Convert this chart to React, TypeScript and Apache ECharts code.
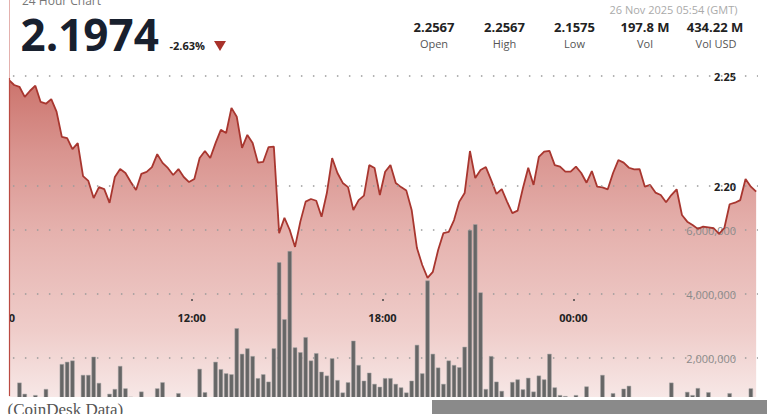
import React, { useEffect, useRef } from "react";
import * as echarts from "echarts";

// 10-minute samples, 25 Nov 2025 06:15 GMT -> 26 Nov 2025 05:45 GMT (hours since 25 Nov 00:00)
const START_HOUR = 6.25;
const STEP_HOURS = 1 / 6;

const prices = [
  2.2482, 2.2459, 2.2451, 2.2405, 2.2433, 2.2456, 2.2382, 2.2374, 2.2395, 2.2338,
  2.2223, 2.2218, 2.2168, 2.2195, 2.2045, 2.2023, 2.1945, 2.1995, 2.1986, 2.1923,
  2.2041, 2.2077, 2.2059, 2.2018, 2.1982, 2.2055, 2.2064, 2.2086, 2.2145, 2.2105,
  2.2082, 2.205, 2.2077, 2.2041, 2.2018, 2.2032, 2.2127, 2.2159, 2.2127, 2.2195,
  2.2255, 2.2241, 2.2355, 2.2315, 2.2173, 2.2232, 2.2195, 2.2106, 2.211, 2.2177,
  2.2179, 2.1786, 2.1855, 2.18, 2.1723, 2.1838, 2.1929, 2.1941, 2.1933, 2.186,
  2.1968, 2.2127, 2.2059, 2.2014, 2.1995, 2.1891, 2.1936, 2.1956, 2.2095, 2.2082,
  2.1959, 2.2065, 2.2095, 2.2014, 2.1995, 2.1979, 2.1891, 2.1718, 2.1641, 2.1582,
  2.161, 2.1709, 2.1786, 2.1792, 2.1845, 2.1929, 2.1968, 2.2159, 2.2036, 2.2073,
  2.2086, 2.2027, 2.1964, 2.1986, 2.1929, 2.1877, 2.1888, 2.1991, 2.2083, 2.2005,
  2.2132, 2.2156, 2.216, 2.2095, 2.2088, 2.2065, 2.2065, 2.2088, 2.2059, 2.2015,
  2.2068, 2.1997, 2.1994, 2.1985, 2.2059, 2.2118, 2.2106, 2.2083, 2.2076, 2.2077,
  2.1997, 2.2005, 2.197, 2.1959, 2.1926, 2.1959, 2.1985, 2.1868, 2.1838, 2.1823,
  2.1805, 2.1815, 2.1812, 2.1808, 2.1782, 2.1809, 2.1917, 2.1924, 2.1936, 2.2032,
  2.1997, 2.1974,
];

// volume per 10 minutes, in millions
const volumesM = [
  0.6, 0.5,
  1.23, 0.88, 0.55, 0.84, 0.6, 1.03, 0.5, 0.6, 1.81, 1.88,
  1.92, 0.6, 1.47, 1.47, 2.04, 1.22, 0.6, 0.88, 1.03, 1.75,
  1.05, 0.79, 0.6, 0.95, 0.5, 0.6, 1.05, 1.24, 0.6, 0.5,
  0.9, 0.6, 0.5, 0.6, 1.66, 0.93, 0.7, 1.88, 1.65, 1.52,
  1.49, 2.93, 2.13, 2.3, 2.06, 1.37, 1.49, 1.26, 2.3, 4.99,
  3.21, 5.34, 2.33, 2.18, 2.65, 1.92, 2.15, 1.57, 1.45, 1.99,
  1.31, 0.92, 1.24, 2.54, 1.78, 1.29, 1.54, 1.19, 1.1, 1.37,
  1.37, 1.19, 1.08, 0.92, 1.29, 2.41, 1.52, 4.42, 2.13, 1.7,
  1.19, 1.92, 1.78, 1.71, 2.35, 6.0, 6.18, 4.05, 1.03, 2.06,
  1.26, 0.97, 0.6, 1.25, 1.33, 1.02, 1.38, 0.95, 1.45, 1.33,
  2.13, 1.08, 0.84, 0.81, 0.6, 0.84, 0.5, 1.11, 0.6, 0.5,
  1.47, 0.6, 0.9, 0.6, 1.04, 1.13, 0.6, 0.5, 0.6, 0.5,
  0.6, 0.5, 0.6, 1.23, 0.6, 0.5, 0.94, 0.84, 1.06, 0.6,
  0.93, 0.5, 0.6, 0.5, 0.9, 0.6, 0.5, 0.6, 1.05, 0.6,
];

const priceGridValues = [2.2, 2.25];
const statValues = ["2.2567", "2.2567", "2.1575", "197.8 M", "434.22 M"];
const statLabels = ["Open", "High", "Low", "Vol", "Vol USD"];
const lastPrice = "2.1974";
const changeText = "-2.63%";
const titleText = "24 Hour Chart";
const dateText = "26 Nov 2025 05:54 (GMT)";
const sourceText = "(CoinDesk Data)";

const FONT = '"Open Sans", "Noto Sans", sans-serif';

export default function App() {
  const ref = useRef<HTMLDivElement>(null);

  useEffect(() => {
    if (!ref.current) return;
    const chart = echarts.init(ref.current, undefined, { renderer: "svg" });

    const hours = prices.map((_, i) => START_HOUR + i * STEP_HOURS);
    const priceData = prices.map((p, i) => [hours[i], p]);
    const volData = volumesM.map((v, i) => [hours[i], v * 1e6]);

    const statX = [434, 504.5, 574.5, 645, 715];

    const txt = (
      text: string,
      x: number,
      y: number,
      font: string,
      fill: string,
      align: string = "left"
    ) => ({
      type: "text",
      x,
      y,
      z: 110,
      silent: true,
      style: {
        text,
        font,
        fill,
        align,
        textAlign: align,
        verticalAlign: "middle",
        textVerticalAlign: "middle",
      },
    });

    const graphics: any[] = [
      // masks (card edges)
      { type: "rect", z: 100, silent: true, shape: { x: 0, y: 0, width: 9, height: 400 }, style: { fill: "#ffffff" } },
      { type: "rect", z: 100, silent: true, shape: { x: 758, y: 60, width: 12, height: 340 }, style: { fill: "#ffffff" } },
      { type: "rect", z: 100, silent: true, shape: { x: 0, y: 397, width: 767, height: 20 }, style: { fill: "#ffffff" } },
      // left border line
      { type: "line", z: 105, silent: true, shape: { x1: 9.5, y1: 0, x2: 9.5, y2: 78 }, style: { stroke: "#e4b1ae", lineWidth: 1 } },
      { type: "line", z: 105, silent: true, shape: { x1: 9.5, y1: 78, x2: 9.5, y2: 396 }, style: { stroke: "#bb4a42", lineWidth: 1.2 } },
      // bottom gray bar
      { type: "rect", z: 105, silent: true, shape: { x: 432, y: 400, width: 335, height: 14 }, style: { fill: "#8a8a8a" } },
      txt(sourceText, 7.5, 409.5, '17px "Liberation Serif", serif', "#555555"),
      // header
      txt(titleText, 22, 0.8, `12px ${FONT}`, "#777777"),
      txt(lastPrice, 20.5, 34, `bold 44px ${FONT}`, "#18202e"),
      txt(changeText, 169.5, 45.3, `bold 11px ${FONT}`, "#222222"),
      {
        type: "polygon",
        z: 110,
        silent: true,
        shape: { points: [[214, 41], [226, 41], [220, 51]] },
        style: { fill: "#a8322b" },
      },
      txt(dateText, 737.5, 9.7, `11px ${FONT}`, "#aaaaaa", "right"),
      ...statValues.map((v, i) => txt(v, statX[i], 27, `bold 13px ${FONT}`, "#222222", "center")),
      ...statLabels.map((v, i) => txt(v, statX[i] + (i === 4 ? 1 : 0), 43.5, `11px ${FONT}`, "#555555", "center")),
    ];

    const dotted = { color: "#9a9a9a", type: [1.5, 10.5] as any, width: 1.5 };

    const option: any = {
      animation: false,
      grid: [
        { left: 0.9, right: 2.9, top: 76, bottom: 8, containLabel: false, outerBoundsMode: "none" },
        { left: 0.9, right: 2.9, top: 230, bottom: -8, containLabel: false, outerBoundsMode: "none" },
      ],
      xAxis: [
        {
          type: "value",
          gridIndex: 0,
          min: 6,
          max: 30,
          interval: 6,
          offset: -107,
          z: 2,
          axisLine: { show: false },
          axisTick: { show: true, length: 2, lineStyle: { color: "#444", width: 1.5 } },
          splitLine: { show: false },
          axisLabel: {
            margin: 13,
            color: "#222",
            fontWeight: "bold",
            fontSize: 11,
            fontFamily: FONT,
            showMaxLabel: false,
            formatter: (v: number) => {
              const h = ((Math.round(v) % 24) + 24) % 24;
              return String(h).padStart(2, "0") + ":00";
            },
          },
        },
        { type: "value", gridIndex: 1, min: 6, max: 30, show: false },
      ],
      yAxis: [
        {
          type: "value",
          gridIndex: 0,
          min: 2.1,
          max: 2.25,
          interval: 0.05,
          position: "right",
          z: 2,
          axisLine: { show: false },
          axisTick: { show: false },
          splitLine: { show: false },
          axisLabel: {
            inside: true,
            margin: 28,
            color: "#222",
            fontWeight: "bold",
            fontSize: 11,
            fontFamily: FONT,
            formatter: (v: number) => (v >= 2.199 ? v.toFixed(2) : ""),
          },
        },
        {
          type: "value",
          gridIndex: 1,
          min: 0,
          max: 6000000,
          interval: 2000000,
          position: "right",
          z: 2,
          axisLine: { show: false },
          axisTick: { show: false },
          splitLine: { show: true, lineStyle: dotted },
          axisLabel: {
            inside: true,
            margin: 28,
            color: "#8a8a8a",
            fontSize: 11,
            fontFamily: FONT,
            formatter: (v: number) => (v === 0 ? "" : v.toLocaleString("en-US")),
          },
        },
      ],
      series: [
        {
          type: "line",
          name: "area",
          xAxisIndex: 0,
          yAxisIndex: 0,
          data: priceData,
          z: 1,
          showSymbol: false,
          silent: true,
          lineStyle: { width: 0, opacity: 0 },
          areaStyle: {
            origin: "start",
            opacity: 1,
            color: new echarts.graphic.LinearGradient(0, 0, 0, 1, [
              { offset: 0, color: "#cc746d" },
              { offset: 0.22, color: "#d9948f" },
              { offset: 0.46, color: "#e5b1ad" },
              { offset: 0.77, color: "#efcdca" },
              { offset: 1, color: "#f8ebea" },
            ]),
          },
        },
        {
          type: "bar",
          name: "Volume",
          xAxisIndex: 1,
          yAxisIndex: 1,
          data: volData,
          barWidth: 4.3,
          clip: false,
          z: 3,
          silent: true,
          itemStyle: { color: "#666666", borderColor: "#a5a5a5", borderWidth: 0.5 },
        },
        {
          type: "line",
          name: "Price",
          xAxisIndex: 0,
          yAxisIndex: 0,
          data: priceData,
          z: 4,
          showSymbol: false,
          silent: true,
          lineStyle: { color: "#a8362f", width: 1.8 },
          markLine: {
            silent: true,
            symbol: "none",
            label: { show: false },
            lineStyle: dotted,
            data: priceGridValues.map((v) => ({ yAxis: v })),
          },
        },
      ],
      graphic: { elements: graphics },
    };

    chart.setOption(option);
    return () => chart.dispose();
  }, []);

  return (
    <div
      ref={ref}
      style={{ position: "absolute", left: 0, top: 0, width: 767, height: 414, background: "#fff" }}
    />
  );
}
